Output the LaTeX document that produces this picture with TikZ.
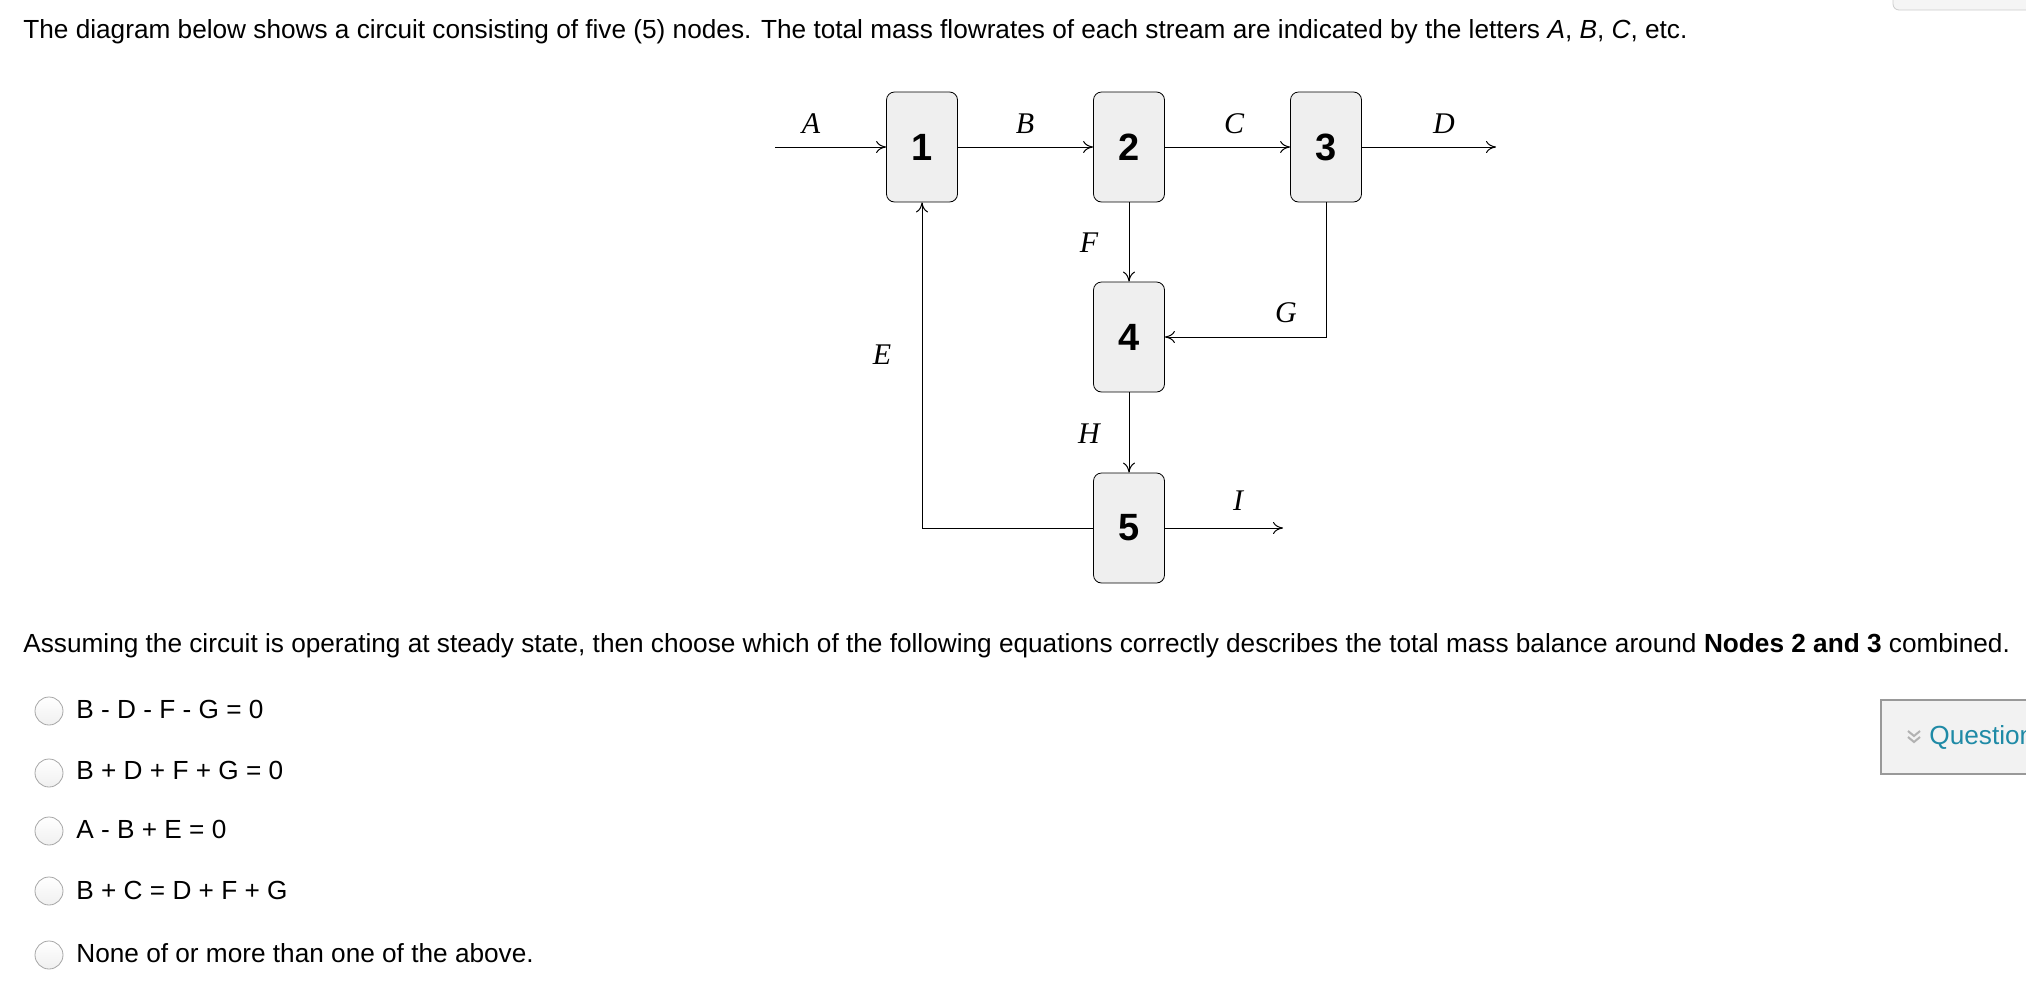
\documentclass[tikz,border=0pt]{standalone}
\usepackage{fontspec}
\setmainfont{Liberation Sans}
\newfontfamily\lserif{Liberation Serif}
\usetikzlibrary{arrows.meta}
\definecolor{boxfill}{HTML}{EFEFEF}
\definecolor{qteal}{HTML}{1F8AA6}
\begin{document}
\begin{tikzpicture}[x=0.5pt,y=-0.5pt,
  unit/.style={draw, rounded corners=4pt, fill=boxfill, minimum width=35.5pt, minimum height=55pt, inner sep=0pt, font=\fontsize{19}{19}\selectfont\bfseries},
  flow/.style={-{To[length=5pt,width=6pt]}, line width=0.5pt},
  lbl/.style={font=\lserif\itshape\fontsize{15}{15}\selectfont},
  body/.style={anchor=west, font=\fontsize{13.1}{15}\selectfont, inner sep=0pt},
  radio/.style={draw=gray!70, circle, minimum size=14pt, inner sep=0pt, top color=white, bottom color=gray!12}]
\useasboundingbox (0,0) rectangle (2026,986);
\fill[gray!8, draw=gray!40, rounded corners=3pt] (1893,-10) rectangle (2040,10);
\node[body] (title) at (23,32) {The diagram below shows a circuit consisting of five (5) nodes. The total mass flowrates of each stream are indicated by the letters \textit{A}, \textit{B}, \textit{C}, etc.};
% nodes
\node[unit] (n1) at (922,147) {1};
\node[unit] (n2) at (1129,147) {2};
\node[unit] (n3) at (1326,147) {3};
\node[unit] (n4) at (1129,337) {4};
\node[unit] (n5) at (1129,528) {5};
\coordinate (a0) at (775,147);
\coordinate (d1) at (1496,147);
\coordinate (i1) at (1283,528);
\draw[flow] (a0) -- (n1);
\draw[flow] (n1) -- (n2);
\draw[flow] (n2) -- (n3);
\draw[flow] (n3) -- (d1);
\draw[flow] (n2) -- (n4);
\draw[flow] (n3.south) |- (n4.east);
\draw[flow] (n4) -- (n5);
\draw[flow] (n5) -- (i1);
\draw[flow] (n5.west) -| (n1.south);
\node[lbl] (lA) at (811,124) {A};
\node[lbl] (lB) at (1025,124) {B};
\node[lbl] (lC) at (1234,124) {C};
\node[lbl] (lD) at (1444,124) {D};
\node[lbl] (lF) at (1089,243) {F};
\node[lbl] (lG) at (1286,313) {G};
\node[lbl] (lE) at (882,355) {E};
\node[lbl] (lH) at (1089,434) {H};
\node[lbl] (lI) at (1238,501) {I};
\node[body] (q) at (23,646) {Assuming the circuit is operating at steady state, then choose which of the following equations correctly describes the total mass balance around \textbf{Nodes 2 and 3} combined.};
\node[radio] (r1) at (49,711) {};
\node[radio] (r2) at (49,773) {};
\node[radio] (r3) at (49,831) {};
\node[radio] (r4) at (49,891) {};
\node[radio] (r5) at (49,955) {};
\node[body] (o1) at (76,709) {B - D - F - G = 0};
\node[body] (o2) at (76,770) {B + D + F + G = 0};
\node[body] (o3) at (76,829) {A - B + E = 0};
\node[body] (o4) at (76,890) {B + C = D + F + G};
\node[body] (o5) at (76,953) {None of or more than one of the above.};
\node[draw=gray!80, fill=gray!10, line width=1pt, minimum width=100pt, minimum height=37pt, anchor=north west, inner sep=0pt] (btn) at (1880,699) {};
\node[anchor=west, text=qteal, font=\fontsize{13.1}{15}\selectfont, inner sep=0pt] (btnt) at (1929,737) {Question};
\draw[gray!60, line width=1pt] (1908,731) -- (1914,736) -- (1920,731) (1908,737) -- (1914,742) -- (1920,737);
\end{tikzpicture}
\end{document}
